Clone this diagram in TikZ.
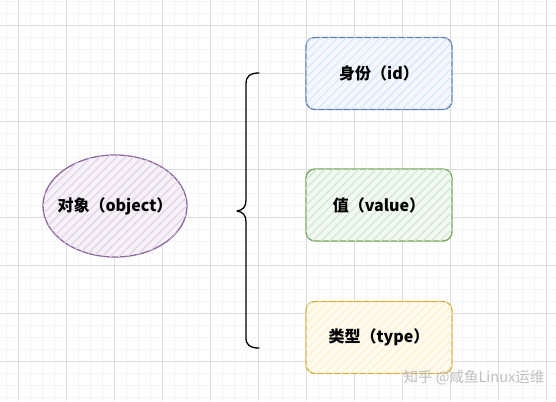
\documentclass[tikz,border=0pt]{standalone}
\usepackage{fontspec}
\setmainfont{Noto Sans CJK SC}
\usepackage{xcolor}
\usepackage{tikz}
\usetikzlibrary{patterns.meta,shapes.geometric}
\definecolor{objline}{HTML}{8C6A9E}
\definecolor{objfill}{HTML}{E1D5E7}
\definecolor{idline}{HTML}{5F7FAF}
\definecolor{idfill}{HTML}{DAE8FC}
\definecolor{valline}{HTML}{76A85C}
\definecolor{valfill}{HTML}{D5E8D4}
\definecolor{typline}{HTML}{D2B04E}
\definecolor{typfill}{HTML}{FFF2CC}
\definecolor{gridmajor}{HTML}{DDDDDD}
\definecolor{gridminor}{HTML}{F5F5F5}
\tikzset{
  hatch/.style={fill=#1!30, postaction={pattern={Lines[angle=45,distance=6pt,line width=1.3pt]},
                pattern color=#1}},
  part/.style 2 args={rounded corners=9pt, draw=#1, line width=1.3pt, hatch=#2,
                      minimum width=146pt, minimum height=72pt, inner sep=0pt,
                      font=\bfseries\fontsize{16}{19}\selectfont},
  whole/.style 2 args={ellipse, draw=#1, line width=1.3pt, hatch=#2,
                       minimum width=144pt, minimum height=102pt, inner sep=-7pt,
                       font=\bfseries\fontsize{16}{19}\selectfont},
  brace/.style={line width=1.3pt, draw=black, line cap=round, line join=round},
  watermark/.style={font=\fontsize{14.5}{16}\selectfont, text=gray!50},
}

\begin{document}
\begin{tikzpicture}[x=1pt, y=-1pt]
\useasboundingbox (0,0) rectangle (556,401);
\fill[white] (0,0) rectangle (556,401);

% ---------------- grid paper ---------------------------------------------
\foreach \x in {6,18,...,554} \draw[gridminor, line width=0.5pt] (\x,0) -- (\x,401);
\foreach \y in {1,13,...,397} \draw[gridminor, line width=0.5pt] (0,\y) -- (556,\y);
\foreach \x in {18,66,...,546} \draw[gridmajor, line width=0.6pt] (\x,0) -- (\x,401);
\foreach \y in {25,73,...,361} \draw[gridmajor, line width=0.6pt] (0,\y) -- (556,\y);

% ---------------- the object and its three parts -------------------------
\node[whole={objline}{objfill}] (obj) at (115,206) {对象（object）};
\node[part={idline}{idfill}] (ident) at (379,73.5) {身份（id）};
\node[part={valline}{valfill}] (val) at (379,205) {值（value）};
\node[part={typline}{typfill}] (typ) at (379,337.5) {类型（type）};

% ---------------- the brace ----------------------------------------------
\draw[brace] (259,73) .. controls (250,73) and (246,76) .. (246,84) -- (246,200)
  .. controls (246,207) and (243,210) .. (237,211)
  .. controls (243,212) and (246,215) .. (246,222) -- (246,338)
  .. controls (246,345) and (250,348) .. (259,348);

\node[watermark] (wm) at (474,378) {知乎 @咸鱼Linux运维};
\end{tikzpicture}
\end{document}
